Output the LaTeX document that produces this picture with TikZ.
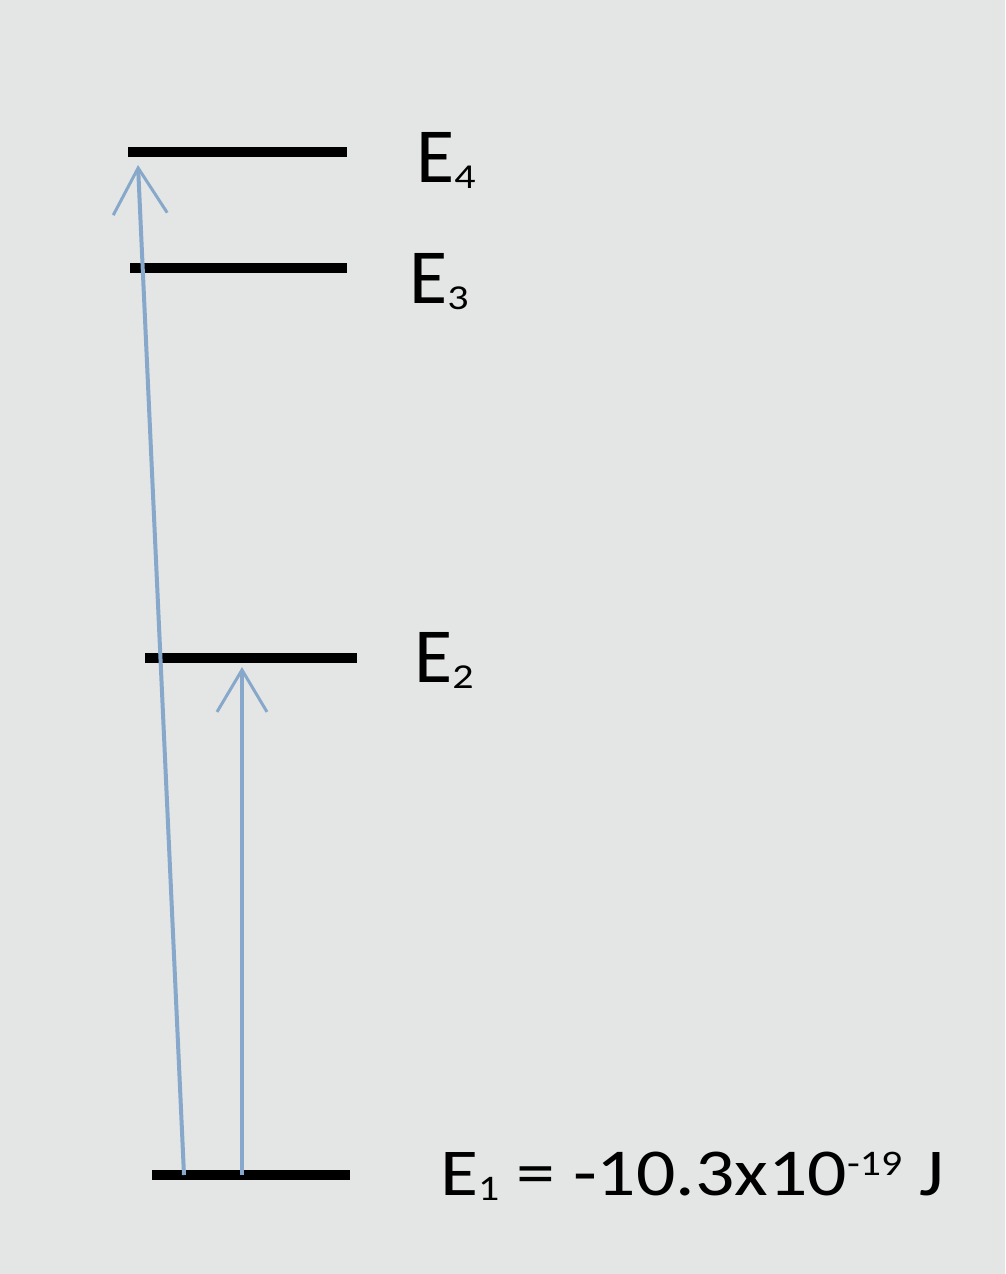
\documentclass[tikz,border=0pt]{standalone}
\usepackage{fontspec}
\setmainfont[Numbers=Lining]{Carlito}
\usetikzlibrary{arrows.meta}
\definecolor{bgc}{RGB}{227,230,229}
\definecolor{arrc}{RGB}{135,168,203}
\newcommand\lvsub[1]{\raisebox{-6pt}{\scalebox{1.2}[1]{\fontsize{35}{35}\selectfont #1}}}
\begin{document}
\begin{tikzpicture}[x=1pt,y=-1pt,
  level/.style={line width=10pt,black},
  trans/.style={arrc,line width=4pt,-{Straight Barb[length=46pt,width=54pt,line width=3pt]}},
  lab/.style={anchor=base west,inner sep=0pt,font=\fontsize{78}{78}\selectfont},
  labone/.style={anchor=base west,inner sep=0pt,font=\fontsize{67}{67}\selectfont}]
\fill[bgc] (0,0) rectangle (1005,1274);
\useasboundingbox (0,0) rectangle (1005,1274);
% level end points
\coordinate (l4a) at (128,152); \coordinate (l4b) at (347,152);
\coordinate (l3a) at (130,268); \coordinate (l3b) at (347,268);
\coordinate (l2a) at (145,658); \coordinate (l2b) at (357,658);
\coordinate (l1a) at (152,1175); \coordinate (l1b) at (350,1175);
\draw[level] (l4a) -- (l4b);
\draw[level] (l3a) -- (l3b);
\draw[level] (l2a) -- (l2b);
\draw[level] (l1a) -- (l1b);
% transitions
\coordinate (t1s) at (184,1175); \coordinate (t1e) at (138,165);
\coordinate (t2s) at (242,1175); \coordinate (t2e) at (242,667);
\draw[trans] (t1s) -- (t1e);
\draw[trans,-{Straight Barb[length=42pt,width=50pt,line width=3pt]}] (t2s) -- (t2e);
% labels
\node[lab] (e4) at (416,182) {E\lvsub{4}};
\node[lab] (e3) at (409,303) {E\lvsub{3}};
\node[lab] (e2) at (414,682) {E\lvsub{2}};
\node[labone] (e1) at (440,1195) {\scalebox{1.16}[1]{E\raisebox{-5pt}{\fontsize{36}{36}\selectfont 1} = -10.3x10\raisebox{20pt}{\fontsize{36}{36}\selectfont -19} J}};
\end{tikzpicture}
\end{document}
